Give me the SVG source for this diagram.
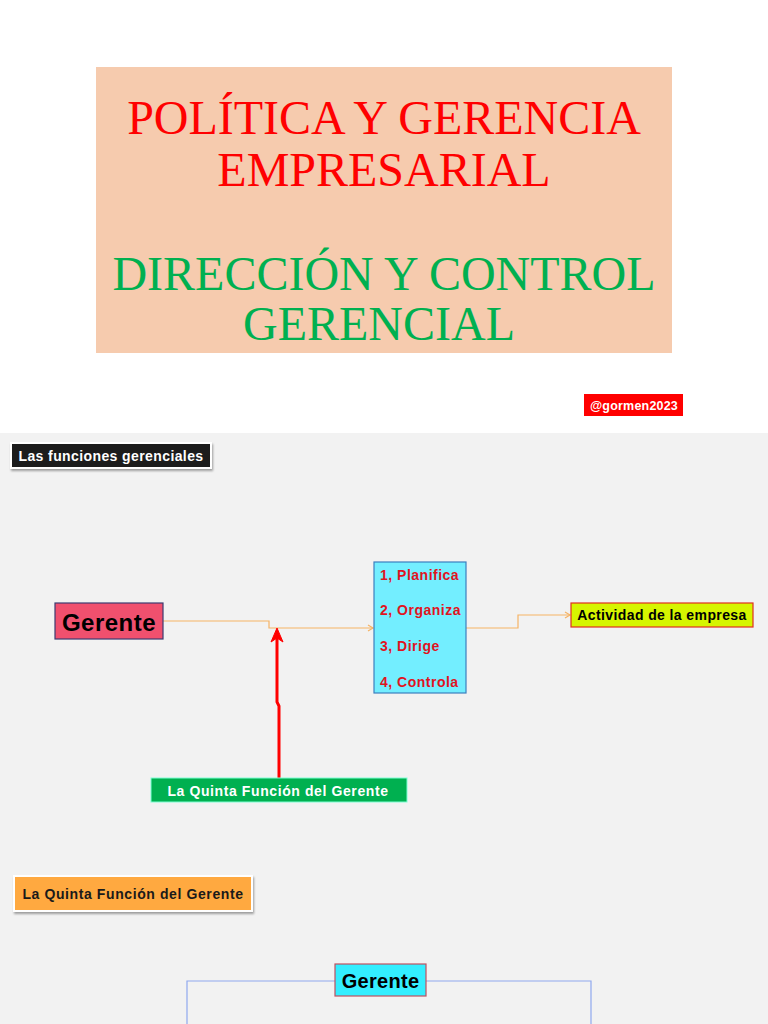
<svg xmlns="http://www.w3.org/2000/svg" width="768" height="1024" viewBox="0 0 768 1024">
<style>
.sans{font-family:"Liberation Sans",Arial,sans-serif;font-weight:bold}
.serif{font-family:"Liberation Serif","Times New Roman",serif}
.conn{fill:none;stroke:#F5B365;stroke-width:1.2}
</style>
<defs>
<marker id="oa" markerWidth="8" markerHeight="8" refX="6" refY="4" orient="auto" markerUnits="userSpaceOnUse">
<path d="M1,1 L6,4 L1,7" fill="none" stroke="#F5B365" stroke-width="1.2"/>
</marker>
<filter id="sh" x="-10%" y="-30%" width="120%" height="170%">
<feDropShadow dx="1" dy="2" stdDeviation="1.2" flood-color="#000" flood-opacity="0.35"/>
</filter>
</defs>
<rect x="0" y="0" width="768" height="433" fill="#FFFFFF"/>
<rect x="0" y="433" width="768" height="591" fill="#F2F2F2"/>

<g id="title">
<rect x="96" y="67" width="576" height="286" fill="#F6CBAE"/>
<text class="serif" x="384" y="134" font-size="48" fill="#FF0000" text-anchor="middle">POLÍTICA Y GERENCIA</text>
<text class="serif" x="384" y="186" font-size="48" fill="#FF0000" text-anchor="middle">EMPRESARIAL</text>
<text class="serif" x="384" y="290" font-size="48" fill="#00B050" text-anchor="middle">DIRECCIÓN Y CONTROL</text>
<text class="serif" x="379" y="340" font-size="48" fill="#00B050" text-anchor="middle">GERENCIAL</text>
</g>

<g id="tag">
<rect x="584" y="394" width="99" height="22" fill="#FF0000"/>
<text class="sans" x="634" y="410" font-size="12.5" fill="#FFFFFF" text-anchor="middle" letter-spacing="0.2">@gormen2023</text>
</g>

<g id="label-funciones">
<rect x="11" y="443" width="200" height="25" fill="#1C1C1C" stroke="#FFFFFF" stroke-width="2" filter="url(#sh)"/>
<text class="sans" x="111" y="460.5" font-size="14" fill="#FFFFFF" text-anchor="middle" letter-spacing="0.4">Las funciones gerenciales</text>
</g>

<g id="connectors">
<path class="conn" d="M163,621 H269 V628 H373" marker-end="url(#oa)"/>
<path class="conn" d="M466,628 H518 V615 H570" marker-end="url(#oa)"/>
<path d="M279,778 V706 L277,702 V636" fill="none" stroke="#FF0000" stroke-width="3"/>
<path d="M271,642 L277,628 L283,642 L277,638 Z" fill="#FF0000" stroke="#FF0000" stroke-width="1"/>
</g>

<g id="gerente1">
<rect x="55" y="603" width="108" height="36" fill="#F0506E" stroke="#3C3A70" stroke-width="1.2"/>
<text class="sans" x="109" y="631" font-size="24" fill="#000000" text-anchor="middle" letter-spacing="0.5">Gerente</text>
</g>

<g id="funciones">
<rect x="374" y="562" width="92" height="131" fill="#73EEFF" stroke="#3B7FBF" stroke-width="1.2"/>
<text class="sans" x="380" y="580" font-size="14" fill="#E0141E" letter-spacing="0.5">1, Planifica</text>
<text class="sans" x="380" y="615" font-size="14" fill="#E0141E" letter-spacing="0.5">2, Organiza</text>
<text class="sans" x="380" y="651" font-size="14" fill="#E0141E" letter-spacing="0.5">3, Dirige</text>
<text class="sans" x="380" y="687" font-size="14" fill="#E0141E" letter-spacing="0.5">4, Controla</text>
</g>

<g id="actividad">
<rect x="571" y="603" width="182" height="24" fill="#D6F500" stroke="#E0301E" stroke-width="1.2"/>
<text class="sans" x="662" y="620" font-size="14" fill="#000000" text-anchor="middle" letter-spacing="0.4">Actividad de la empresa</text>
</g>

<g id="quinta-green">
<rect x="151" y="778" width="256" height="24" fill="#00B050" stroke="#7FFFD4" stroke-width="1"/>
<text class="sans" x="278" y="796" font-size="14" fill="#FFFFFF" text-anchor="middle" letter-spacing="0.6">La Quinta Función del Gerente</text>
</g>

<g id="label-quinta">
<rect x="14" y="876" width="238" height="35" fill="#FFA940" stroke="#FFFFFF" stroke-width="2" filter="url(#sh)"/>
<text class="sans" x="133" y="898.5" font-size="14" fill="#1A1A1A" text-anchor="middle" letter-spacing="0.6">La Quinta Función del Gerente</text>
</g>

<g id="frame">
<path d="M187,1024 V981 H591 V1024" fill="none" stroke="#8FA8EE" stroke-width="1.2"/>
</g>

<g id="gerente2">
<rect x="335" y="964" width="91" height="32" fill="#33EEFF" stroke="#C05060" stroke-width="1.2"/>
<text class="sans" x="380.5" y="988" font-size="20" fill="#000000" text-anchor="middle" letter-spacing="0.3">Gerente</text>
</g>
</svg>
